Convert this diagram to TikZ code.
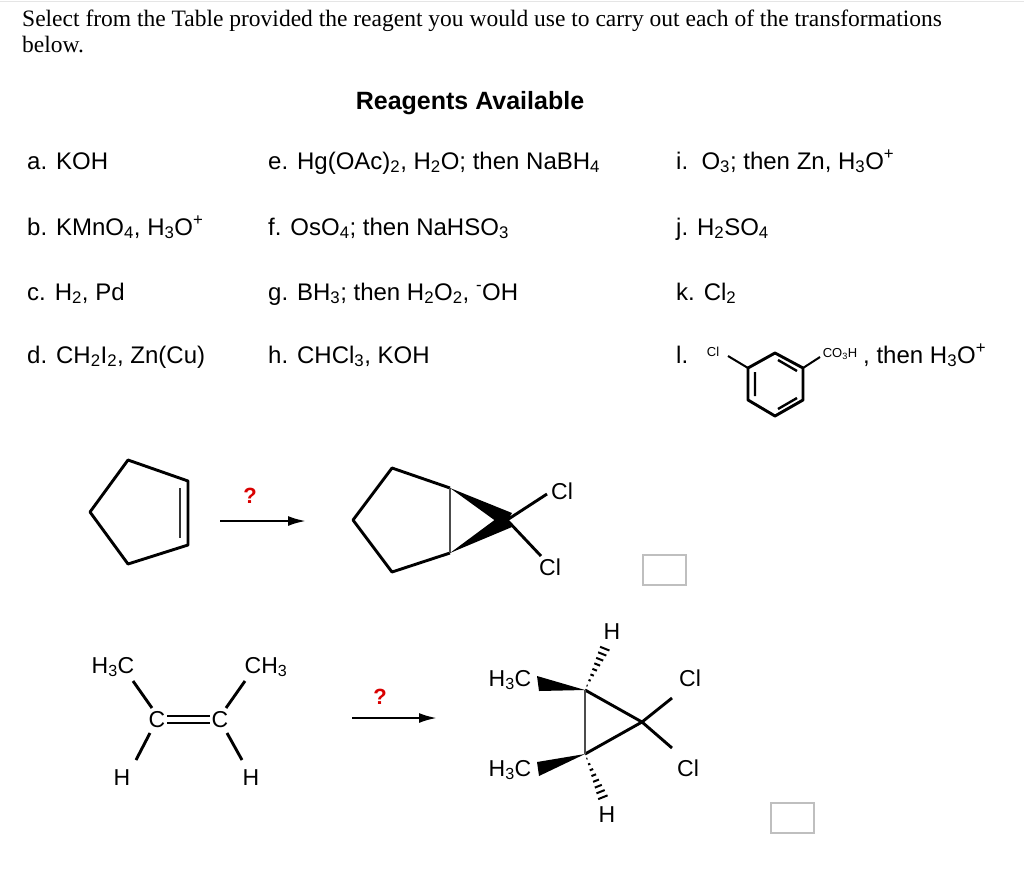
\documentclass[tikz,border=0pt]{standalone}
\usepackage{fontspec}
\usetikzlibrary{calc,arrows.meta}
\setmainfont{Liberation Sans}
\newfontfamily\serifx{Liberation Serif}
\newcommand{\sbx}[1]{\textsubscript{#1}}
\newcommand{\spx}[1]{\textsuperscript{#1}}
\begin{document}
\begin{tikzpicture}[x=1pt,y=-1pt,
 txt/.style={anchor=base west,inner sep=0,font=\fontsize{24}{26}\selectfont},
 lab/.style={inner sep=0,font=\fontsize{23}{25}\selectfont},
 bnd/.style={line width=2.9pt},
 qm/.style={text=red!85!black,font=\bfseries\fontsize{22}{24}\selectfont,inner sep=0},
 ansbox/.style={draw=black!25,line width=1.4pt,minimum width=43pt,minimum height=30pt,inner sep=0}]
\useasboundingbox (0,0) rectangle (1024,881);
\draw[black!10,line width=1pt] (0,1)--(1024,1);
\node[txt,font=\serifx\fontsize{23.5}{26}\selectfont] (t1) at (22,26) {Select from the Table provided the reagent you would use to carry out each of the transformations};
\node[txt,font=\serifx\fontsize{23.5}{26}\selectfont] (t2) at (22,52) {below.};
\node[inner sep=0,font=\bfseries\fontsize{25}{27}\selectfont] (hd) at (470,103) {Reagents Available};
\node[txt] (ra) at (27,169) {a. KOH};
\node[txt] (rb) at (27,235) {b. KMnO\sbx{4}, H\sbx{3}O\spx{+}};
\node[txt] (rc) at (27,300) {c. H\sbx{2}, Pd};
\node[txt] (rd) at (27,363) {d. CH\sbx{2}I\sbx{2}, Zn(Cu)};
\node[txt] (re) at (268,169) {e. Hg(OAc)\sbx{2}, H\sbx{2}O; then NaBH\sbx{4}};
\node[txt] (rf) at (268,235) {f. OsO\sbx{4}; then NaHSO\sbx{3}};
\node[txt] (rg) at (268,300) {g. BH\sbx{3}; then H\sbx{2}O\sbx{2}, \spx{-}OH};
\node[txt] (rh) at (268,363) {h. CHCl\sbx{3}, KOH};
\node[txt] (ri) at (676,169) {i.\ \ O\sbx{3}; then Zn, H\sbx{3}O\spx{+}};
\node[txt] (rj) at (676,235) {j. H\sbx{2}SO\sbx{4}};
\node[txt] (rk) at (676,300) {k. Cl\sbx{2}};
\node[txt] (rl) at (676,363) {l.};
\node[txt] (rl2) at (863,363) {, then H\sbx{3}O\spx{+}};
% benzene
\coordinate (b1) at (775,353); \coordinate (b2) at (803,368); \coordinate (b3) at (803,400);
\coordinate (b4) at (775,416); \coordinate (b5) at (748,400); \coordinate (b6) at (748,368);
\draw[bnd,line join=round] (b1)--(b2)--(b3)--(b4)--(b5)--(b6)--cycle;
\draw[line width=2.4pt] (778,360)--(797,371) (755,372)--(755,396) (778,409)--(797,398);
\node[inner sep=0,font=\fontsize{13}{14}\selectfont] (cl0) at (713,352) {Cl};
\node[inner sep=0,font=\fontsize{13}{14}\selectfont] (co3h) at (840,354) {CO\sbx{3}H};
\draw[line width=2pt] (728,356) -- (b6);
\draw[line width=2pt] (b2) -- (820,357);
% reaction 1
\draw[bnd,line join=round] (128,460)--(188,481)--(188,545)--(128,564)--(90,512)--cycle;
\draw[line width=2.2pt,black!80] (180,488)--(180,538);
\node[qm] (q1) at (250,496) {?};
\coordinate (a1s) at (220,521); \coordinate (a1e) at (306,521);
\draw[line width=2.4pt,-{Latex[length=18pt,width=10pt]}] (a1s)--(a1e);
\coordinate (p1) at (392,468); \coordinate (p2) at (450,488); \coordinate (p3) at (450,553);
\coordinate (p4) at (392,572); \coordinate (p5) at (353,520); \coordinate (ap) at (507,520);
\draw[bnd,line join=round] (p2)--(p1)--(p5)--(p4)--(p3);
\draw[line width=2.2pt,black!70] (p2)--(p3);
\fill (p2)--(504,527)--(512,513)--cycle;
\fill (p3)--(512,527)--(504,513)--cycle;
\node[lab] (cl1) at (562,491) {Cl};
\node[lab] (cl2) at (550,567) {Cl};
\draw[bnd] (ap)--(547,494);
\draw[bnd] (ap)--(541,556);
\node[ansbox] (box1) at (664.5,570) {};
% reaction 2
\node[lab] (h3ca) at (113,667) {H\sbx{3}C};
\node[lab] (ch3a) at (266,667) {CH\sbx{3}};
\node[lab] (c1) at (157,720) {C};
\node[lab] (c2) at (220,720) {C};
\node[lab] (ha) at (122,778) {H};
\node[lab] (hb) at (251,778) {H};
\draw[bnd] (167,716)--(210,716) (167,723)--(210,723);
\draw[bnd] (133,681)--(152,708) (245,681)--(226,708) (150,733)--(136,760) (227,733)--(242,760);
\node[qm] (q2) at (380,697) {?};
\coordinate (a2s) at (352,718); \coordinate (a2e) at (437,718);
\draw[line width=2.4pt,-{Latex[length=18pt,width=10pt]}] (a2s)--(a2e);
\coordinate (k1) at (585,690); \coordinate (k2) at (585,754); \coordinate (k3) at (642,722);
\draw[bnd] (k1)--(k3)--(k2);
\draw[line width=2.2pt,black!70] (k1)--(k2);
\node[lab] (cl3) at (690,678) {Cl};
\node[lab] (cl4) at (688,768) {Cl};
\draw[bnd] (k3)--(672,698) (k3)--(672,748);
\node[lab] (h3cb) at (510,680) {H\sbx{3}C};
\node[lab] (h3cc) at (510,770) {H\sbx{3}C};
\fill (k1)--(537,676)--(539,691)--cycle;
\fill (k2)--(537,762)--(539,776)--cycle;
\node[lab] (hc) at (612,632) {H};
\node[lab] (hd2) at (607,815) {H};
\foreach \t in {0.1,0.22,...,0.95} {
 \draw[line width=2pt] ($(585,690)!\t!(606,646)+(-\t*5,-\t*2)$)--($(585,690)!\t!(606,646)+(\t*5,\t*2)$);
 \draw[line width=2pt] ($(585,754)!\t!(604,800)+(-\t*5,\t*2)$)--($(585,754)!\t!(604,800)+(\t*5,-\t*2)$);
}
\node[ansbox] (box2) at (792.5,818) {};
\end{tikzpicture}
\end{document}
